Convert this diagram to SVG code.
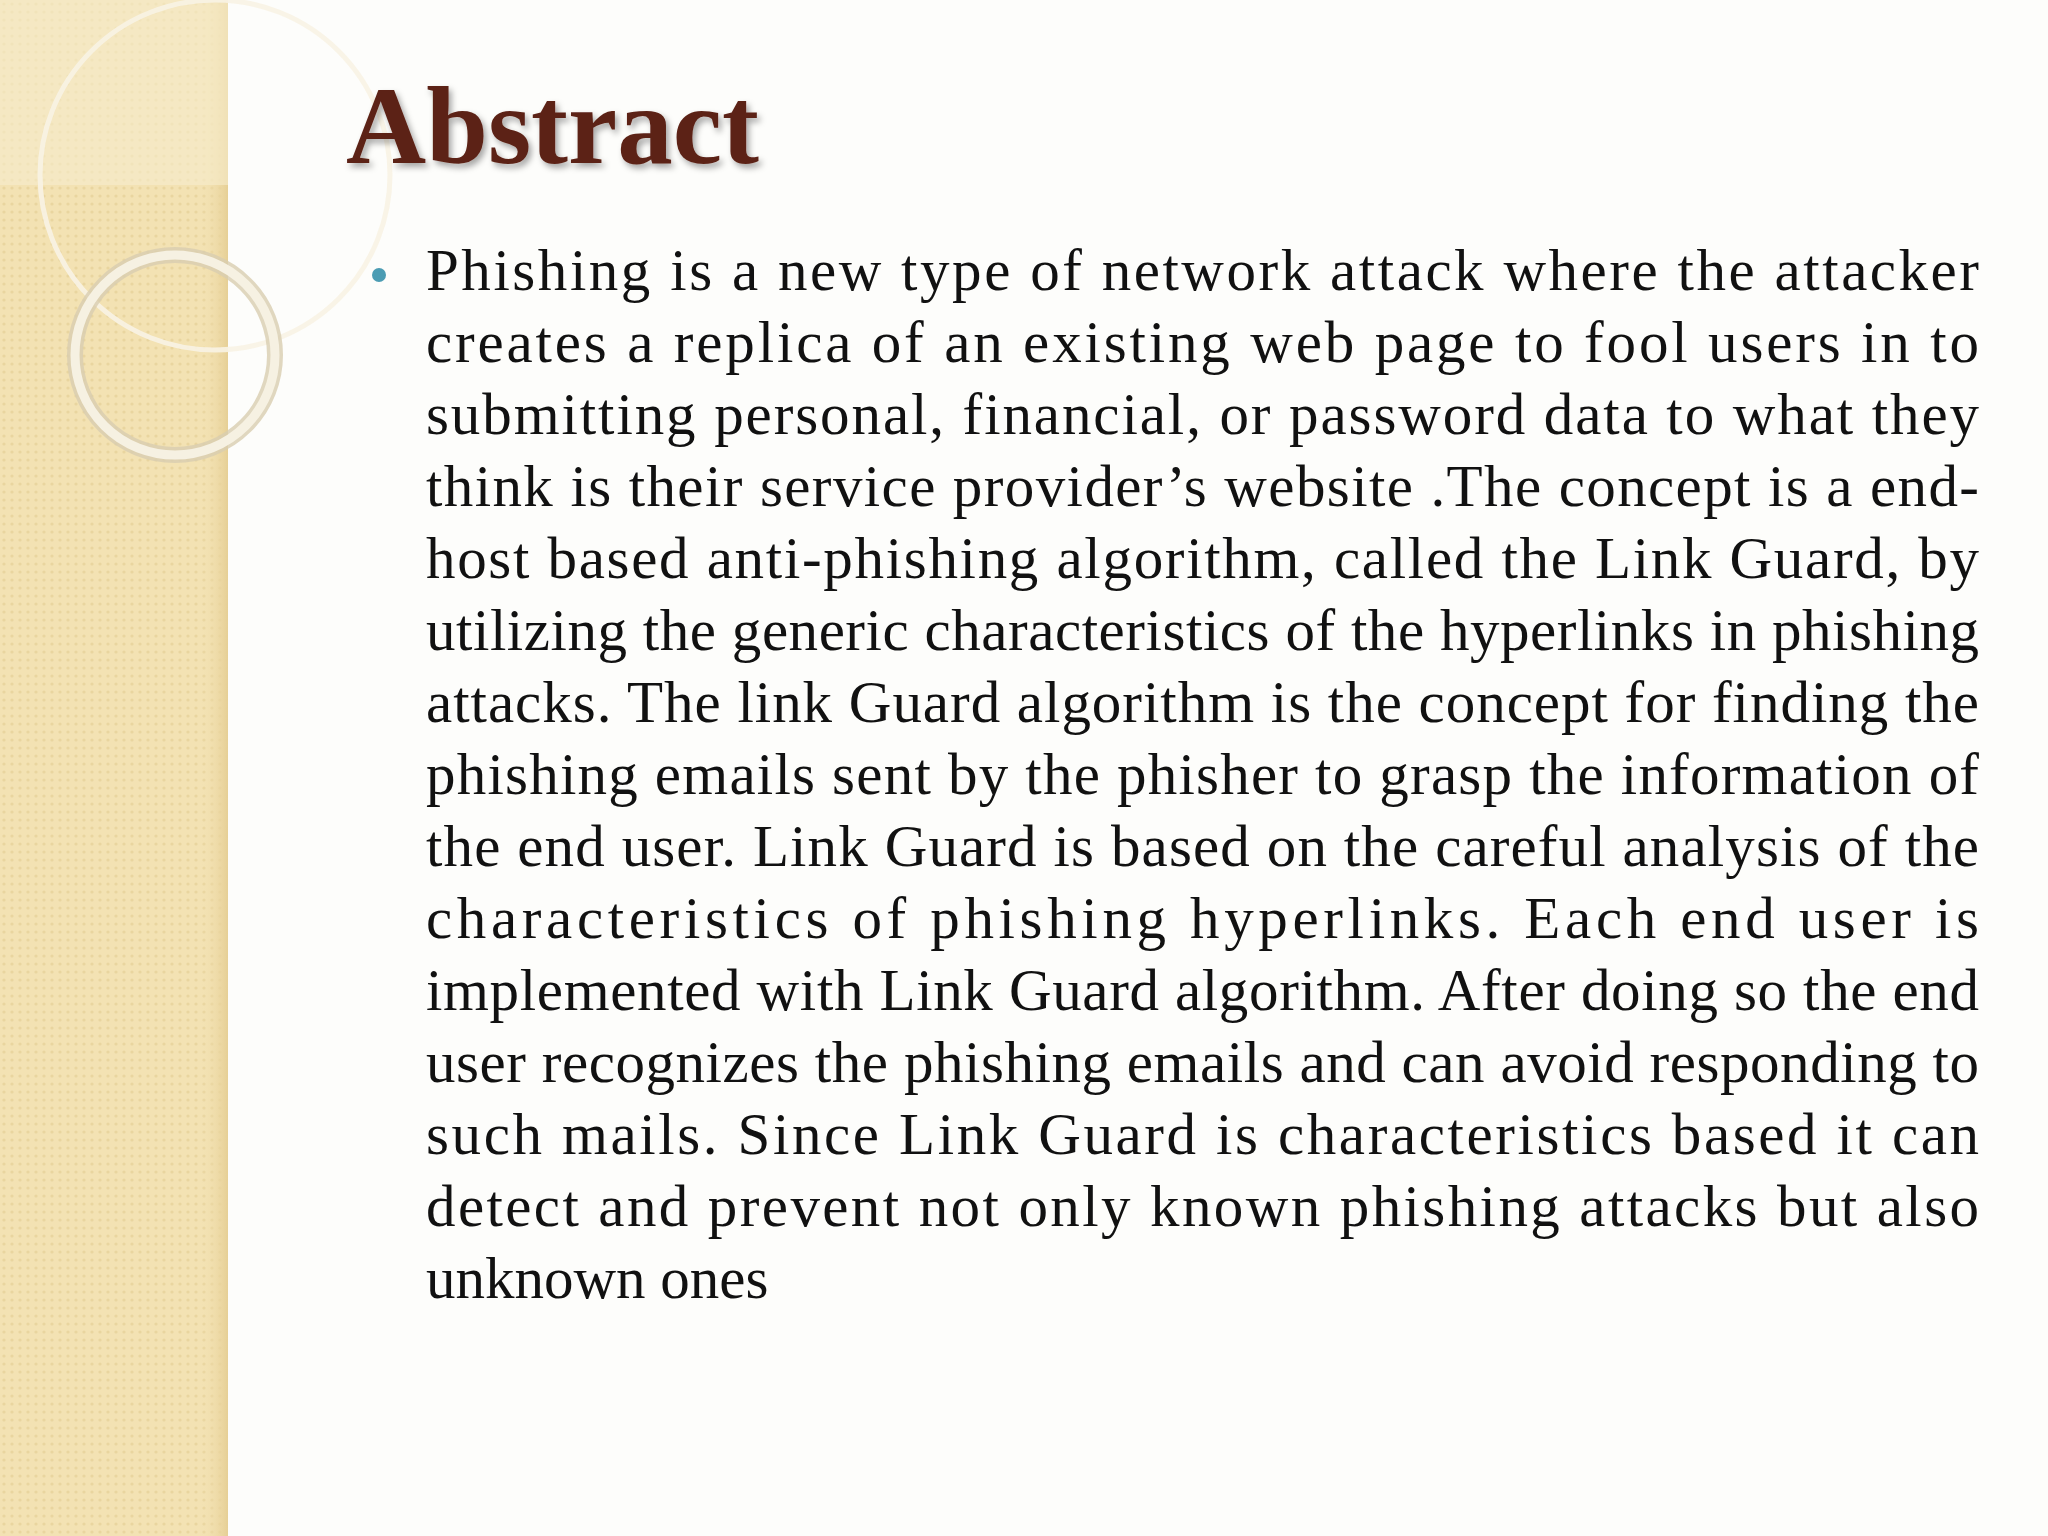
<svg xmlns="http://www.w3.org/2000/svg" width="2048" height="1536" viewBox="0 0 2048 1536">
<defs>
<pattern id="dots" width="8" height="8" patternUnits="userSpaceOnUse"><rect width="8" height="8" fill="#f3e2b3"/><circle cx="4" cy="4" r="1.6" fill="#e9d59f"/></pattern>
<linearGradient id="edge" x1="0" x2="1"><stop offset="0" stop-color="#f3e2b3" stop-opacity="0"/><stop offset="1" stop-color="#e6cf95"/></linearGradient>
<filter id="sh"><feDropShadow dx="3" dy="4" stdDeviation="3" flood-color="#000" flood-opacity="0.35"/></filter>
<style>.b{font-family:"Liberation Serif",serif;font-size:59px;fill:#111}</style>
</defs>
<rect width="2048" height="1536" fill="#fdfdfb"/>
<rect width="228" height="1536" fill="url(#dots)"/>
<rect x="200" width="28" height="1536" fill="url(#edge)"/>
<g id="deco" fill="none">
<rect x="0" y="0" width="228" height="185" fill="#f7eccd" opacity="0.6"/>
<circle cx="215" cy="175" r="175" stroke="#f8f3e4" stroke-width="5" opacity="0.9"/>
<circle cx="175" cy="355" r="100" stroke="#d8cdb0" stroke-width="16" opacity="0.8"/>
<circle cx="175" cy="355" r="100" stroke="#f6f1e2" stroke-width="9"/>
</g>
<g id="title"><text x="346" y="163" font-family="Liberation Serif,serif" font-weight="bold" font-size="111" fill="#5c2418" filter="url(#sh)">Abstract</text></g>
<g id="body">
<circle cx="379" cy="275" r="7" fill="#4b9cb3"/>
<text class="b" x="426" y="290" textLength="1553" lengthAdjust="spacing">Phishing is a new type of network attack where the attacker</text>
<text class="b" x="426" y="362" textLength="1553" lengthAdjust="spacing">creates a replica of an existing web page to fool users in to</text>
<text class="b" x="426" y="434" textLength="1553" lengthAdjust="spacing">submitting personal, financial, or password data to what they</text>
<text class="b" x="426" y="506" textLength="1553" lengthAdjust="spacing">think is their service provider’s website .The  concept is a end-</text>
<text class="b" x="426" y="578" textLength="1553" lengthAdjust="spacing">host based anti-phishing algorithm, called the Link Guard, by</text>
<text class="b" x="426" y="650" textLength="1553" lengthAdjust="spacing">utilizing the generic characteristics of the hyperlinks in phishing</text>
<text class="b" x="426" y="722" textLength="1553" lengthAdjust="spacing">attacks. The link Guard algorithm is the concept for finding the</text>
<text class="b" x="426" y="794" textLength="1553" lengthAdjust="spacing">phishing emails sent by the phisher to grasp the information of</text>
<text class="b" x="426" y="866" textLength="1553" lengthAdjust="spacing">the end user. Link Guard is based on the careful analysis of the</text>
<text class="b" x="426" y="938" textLength="1553" lengthAdjust="spacing">characteristics of phishing hyperlinks. Each end user is</text>
<text class="b" x="426" y="1010" textLength="1553" lengthAdjust="spacing">implemented with Link Guard algorithm. After doing so the end</text>
<text class="b" x="426" y="1082" textLength="1553" lengthAdjust="spacing">user recognizes the phishing emails and can avoid responding to</text>
<text class="b" x="426" y="1154" textLength="1553" lengthAdjust="spacing">such mails. Since Link Guard is characteristics based it can</text>
<text class="b" x="426" y="1226" textLength="1553" lengthAdjust="spacing">detect and prevent not only known phishing attacks but also</text>
<text class="b" x="426" y="1298">unknown ones</text>
</g>
</svg>
